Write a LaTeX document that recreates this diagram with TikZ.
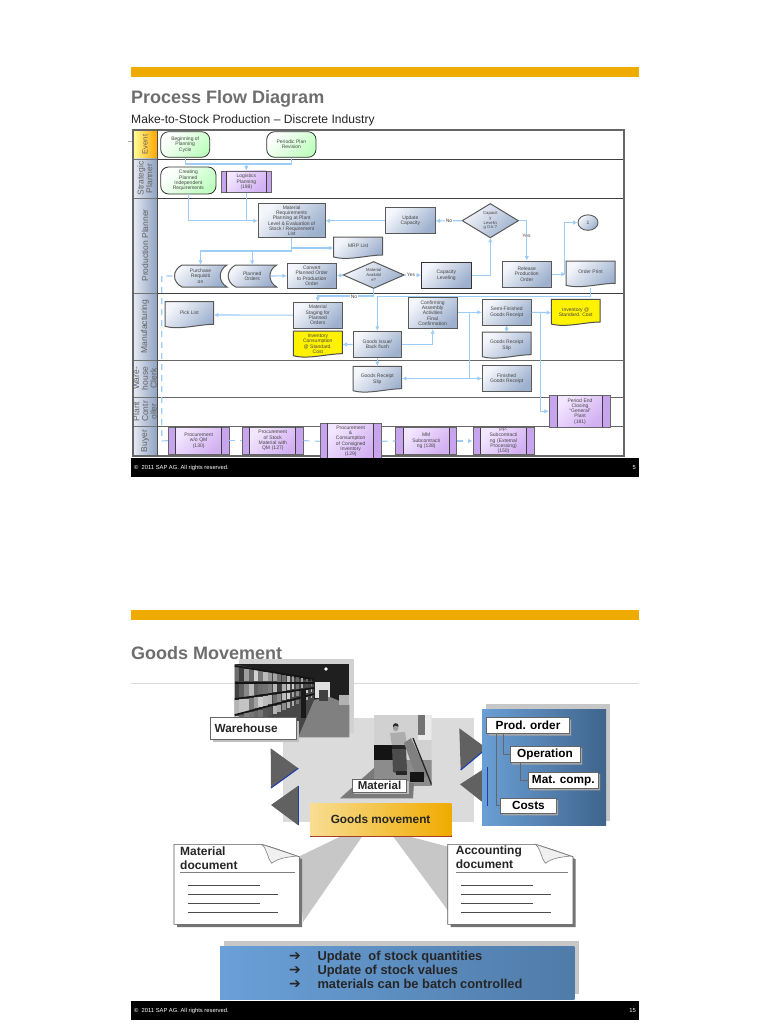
\documentclass[tikz,border=0pt]{standalone}
\usepackage{fontspec}
\setmainfont{Liberation Sans}
\newfontfamily\dvs{DejaVu Sans}
\usetikzlibrary{arrows.meta,shapes.geometric,shadings,calc}
\definecolor{sapgold}{HTML}{F0AB00}
\definecolor{titlegrey}{HTML}{6E6E6E}
\definecolor{conncol}{HTML}{9DCCF6}
\definecolor{txtgrey}{HTML}{454545}
\definecolor{pboxl}{HTML}{F4F6FB}
\definecolor{pboxd}{HTML}{9DB0CE}
\definecolor{purpl}{HTML}{F3E6FF}
\definecolor{purpd}{HTML}{D2B0F2}
\definecolor{purps}{HTML}{C8A4EE}
\definecolor{panell}{HTML}{6A9FD5}
\definecolor{paneld}{HTML}{3F648C}
\definecolor{resl}{HTML}{6AA0D8}
\definecolor{resd}{HTML}{4F7BA8}
\definecolor{gmlight}{HTML}{F8DD92}
\definecolor{gmedge}{HTML}{A83A2A}
\definecolor{edgeblue}{HTML}{1F3FAF}
\definecolor{headl}{HTML}{E6EAF3}
\definecolor{headd}{HTML}{8FA2C2}
\tikzset{
  tiny/.style={font=\fontsize{5}{5.3}\selectfont,text=txtgrey,align=center,inner sep=0pt},
  procbox/.style={draw=black!65,line width=1pt,top color=pboxl,bottom color=pboxd,shading angle=45},
  docfill/.style={draw=black!65,line width=1pt,top color=pboxl,bottom color=pboxd,shading angle=45},
  yellowfill/.style={draw=black!70,line width=1pt,fill=yellow},
  purplebox/.style={draw=black!60,line width=0.8pt,top color=purpl,bottom color=purpd,shading angle=45},
  startbox/.style={draw=black!80,line width=0.8pt,rounded corners=8pt,top color=white,bottom color=green!25,shading angle=45},
  conn/.style={draw=conncol,line width=1.1pt},
  arr/.style={conn,-{Latex[length=4.5pt,width=4.5pt]}},
  dashconn/.style={conn,dash pattern=on 6pt off 5pt},
  lane/.style={draw=black!75,line width=0.9pt},
  lanehead/.style={draw=black!55,line width=0.6pt,left color=headl,right color=headd},
  lanetxt/.style={rotate=90,font=\fontsize{8.5}{8.7}\selectfont,text=black!62,align=center,inner sep=0pt},
  tag/.style={tiny,fill=white,inner xsep=1pt},
  whitetag/.style={draw=black!60,line width=0.7pt,fill=white,font=\bfseries\fontsize{11.8}{12}\selectfont,inner sep=0pt},
  shad/.style={fill=black!22,draw=none},
  slab/.style={fill=black!14,draw=none},
  tri/.style={fill=black!62,draw=none},
  bluedge/.style={draw=edgeblue,line width=1.1pt},
  treeline/.style={draw=black!60,line width=0.9pt},
  doclines/.style={draw=black!70,line width=0.6pt},
  doctxt/.style={font=\bfseries\fontsize{12}{14}\selectfont,text=black!85,align=left,inner sep=0pt,anchor=north west},
  foot/.style={font=\fontsize{5.8}{6}\selectfont,text=white,inner sep=0pt}
}
% style, name, x1,y1,x2,y2, text
\newcommand{\BX}[7]{%
  \pgfmathsetmacro\bw{#5-#3}\pgfmathsetmacro\bh{#6-#4}%
  \pgfmathsetmacro\cxx{(#3+#5)/2}\pgfmathsetmacro\cyy{(#4+#6)/2}%
  \node[#1,tiny,minimum width=\bw pt,minimum height=\bh pt] (#2) at (\cxx,\cyy) {#7};}
% document: fillstyle, name, x1,y1,x2,y2, text
\newcommand{\DOC}[7]{%
  \pgfmathsetmacro\cxx{(#3+#5)/2}\pgfmathsetmacro\cyy{(#4+#6)/2}%
  \pgfmathsetmacro\bw{#5-#3}\pgfmathsetmacro\bh{#6-#4}%
  \pgfmathsetmacro\qa{#3+\bw*0.3}\pgfmathsetmacro\qb{#3+\bw*0.7}%
  \path[#1] (#3,#4) -- (#5,#4) -- (#5,#6-4) .. controls (\qb,#6-4) and (\qa,#6+2) .. (#3,#6-2) -- cycle;
  \node[tiny,minimum width=\bw pt,minimum height=\bh pt] (#2) at (\cxx,\cyy) {\raisebox{4pt}{\begin{tabular}{@{}c@{}}#7\end{tabular}}};}
% predefined process: name, x1,y1,x2,y2,inset, text
\newcommand{\PPB}[7]{%
  \fill[purps] (#2,#3) rectangle (#4,#5);
  \pgfmathsetmacro\bw{#4-#2-2*#6}\pgfmathsetmacro\bh{#5-#3}%
  \pgfmathsetmacro\cxx{(#2+#4)/2}\pgfmathsetmacro\cyy{(#3+#5)/2}%
  \pgfmathsetmacro\ow{#4-#2}%
  \node[purplebox,draw=none,tiny,minimum width=\bw pt,minimum height=\bh pt,text width=\bw pt] (#1-in) at (\cxx,\cyy) {#7};
  \node[draw=black!60,line width=0.8pt,minimum width=\ow pt,minimum height=\bh pt,inner sep=0pt] (#1) at (\cxx,\cyy) {};
  \draw[black!75,line width=0.8pt] (#2+#6,#3) -- (#2+#6,#5) (#4-#6,#3) -- (#4-#6,#5);}
% diamond: name, x1,y1,x2,y2, text
\newcommand{\DIA}[6]{%
  \pgfmathsetmacro\cxx{(#2+#4)/2}\pgfmathsetmacro\cyy{(#3+#5)/2}%
  \path[procbox] (#2,\cyy) -- (\cxx,#3) -- (#4,\cyy) -- (\cxx,#5) -- cycle;
  \pgfmathsetmacro\bw{#4-#2}\pgfmathsetmacro\bh{#5-#3}%
  \node[tiny,font=\fontsize{4.2}{4.6}\selectfont,minimum width=\bw pt,minimum height=\bh pt] (#1) at (\cxx,\cyy) {#6};}
% stored data: name, x1,y1,x2,y2, text
\newcommand{\STO}[6]{%
  \pgfmathsetmacro\cxx{(#2+#4)/2}\pgfmathsetmacro\cyy{(#3+#5)/2}%
  \pgfmathsetmacro\bw{#4-#2}\pgfmathsetmacro\bh{#5-#3}%
  \path[procbox] (#2+8,#3) -- (#4,#3) .. controls (#4-9,#3+5) and (#4-9,#5-5) .. (#4,#5) -- (#2+8,#5) .. controls (#2-2,#5-5) and (#2-2,#3+5) .. (#2+8,#3) -- cycle;
  \node[tiny,minimum width=\bw pt,minimum height=\bh pt] (#1) at (\cxx,\cyy) {#6};}
\begin{document}
\begin{tikzpicture}[x=1pt,y=-1pt]
\useasboundingbox[fill=white] (0,0) rectangle (768,1024);

%% ===== upper slide =====
\fill[sapgold] (131,67) rectangle (639,77);
\node[anchor=west,inner sep=0pt,font=\bfseries\fontsize{18}{19}\selectfont,text=titlegrey] (t1) at (131,99) {Process Flow Diagram};
\node[anchor=west,inner sep=0pt,font=\fontsize{12.1}{13}\selectfont,text=black!85] (t2) at (131,120.5) {Make-to-Stock Production – Discrete Industry};

% lanes
\draw[black!30,line width=1pt] (128,142) -- (132,142);
\path[draw=black!55,line width=0.6pt,left color=yellow!40!white,right color=orange!70!yellow] (133,130) rectangle (157,159);
\path[lanehead] (133,159) rectangle (157,198);
\path[lanehead] (133,198) rectangle (157,293);
\path[lanehead] (133,293) rectangle (157,360);
\path[lanehead] (133,360) rectangle (157,397);
\path[lanehead] (133,397) rectangle (157,426);
\path[lanehead] (133,426) rectangle (157,456);
\draw[lane] (157,159) -- (624,159) (157,198) -- (624,198) (157,293) -- (624,293);
\draw[draw=black!60,line width=1pt] (157,360) -- (624,360) (157,397) -- (624,397) (157,426) -- (624,426);
\draw[draw=black!60,line width=1.2pt] (133,130) rectangle (624,456);
\draw[draw=black!70,line width=0.9pt] (157,130) -- (157,456);
\node[lanetxt,font=\fontsize{7.5}{8}\selectfont] (l1) at (145,144.5) {Event};
\node[lanetxt] (l2) at (145,178.5) {Strategic\\Planner};
\node[lanetxt] (l3) at (145,245.5) {Production Planner};
\node[lanetxt] (l4) at (145,326.5) {Manufacturing};
\node[lanetxt] (l5) at (145,378.5) {Ware-\\house\\Clerk};
\node[lanetxt] (l6) at (145,411.5) {Plant\\Contr\\oller};
\node[lanetxt] (l7) at (145,441) {Buyer};

% nodes
\BX{startbox}{beg}{160.7}{131.7}{209.7}{157.3}{Beginning of\\Planning\\Cycle}
\BX{startbox}{per}{266.7}{131.7}{316}{157.3}{Periodic Plan\\Revision}
\BX{startbox}{cre}{160.7}{167}{216}{194}{Creating\\Planned\\Independent\\Requirements}
\PPB{log}{221.7}{171}{271}{192.7}{5}{\centering Logistics\\Planning\\(198)}
\BX{procbox}{mrp}{258.3}{204}{325}{237.7}{Material\\Requirements\\Planning at Plant\\Level \& Evaluation of\\Stock / Requirement\\List}
\DOC{docfill}{mrpl}{333.7}{237}{382.7}{259}{MRP List}
\STO{pur}{174}{265}{227}{287}{Purchase\\Requisiti\\on}
\STO{pla}{227.7}{265}{276.7}{287}{Planned\\Orders}
\BX{procbox}{con}{287.3}{263}{336.3}{288.7}{Convert\\Planned Order\\to Production\\Order}
\DIA{mat}{343.3}{261.7}{404}{288.3}{Material\\Availabl\\e?}
\BX{procbox}{upd}{385.7}{208}{435}{233.7}{Update\\Capacity}
\DIA{capd}{462.3}{203.7}{518.3}{237.7}{Capacit\\y\\Levelin\\g O.k.?}
\node[draw=black!65,line width=0.9pt,ellipse,top color=pboxl,bottom color=pboxd,shading angle=45,minimum width=20pt,minimum height=15.5pt,tiny] (one) at (588,222.6) {1};
\BX{procbox,draw=black!80}{capl}{421.7}{262.3}{471}{288}{Capacity\\Leveling}
\BX{procbox}{rel}{502.3}{261}{551.3}{287.3}{Release\\Production\\Order}
\DOC{docfill}{ord}{566}{261}{615}{287.3}{Order Print}
\DOC{docfill}{pick}{165}{301.7}{213.7}{328.3}{Pick List}
\BX{procbox}{sta}{293.3}{302.3}{342.3}{328}{Material\\Staging for\\Planned\\Orders}
\DOC{yellowfill}{inv1}{293.3}{331}{342.3}{357.7}{Inventory\\Consumption\\@ Standard.\\Cost}
\BX{procbox}{gi}{353}{331.3}{401.7}{357.7}{Goods Issue/\\Back flush}
\DOC{docfill}{grs1}{353}{366.3}{401.7}{392.7}{Goods Receipt\\Slip}
\BX{procbox}{cfm}{408}{297.3}{457.3}{328.7}{Confirming\\Assembly\\Activities\\Final\\Confirmation}
\BX{procbox}{semi}{482.3}{299.3}{531}{325.3}{Semi-Finished\\Goods Receipt}
\DOC{docfill}{grs2}{482.3}{332}{531}{358.7}{Goods Receipt\\Slip}
\DOC{yellowfill}{inv2}{551.3}{299.3}{600}{326}{Inventory @\\Standard. Cost}
\BX{procbox}{fin}{482.3}{365.7}{531}{391.3}{Finished\\Goods Receipt}
\PPB{pend}{549.3}{395.7}{610.7}{427}{8}{\centering Period End\\Closing\\``General''\\Plant\\(181)}
\PPB{b1}{168.3}{427.3}{229}{454}{7.5}{\centering Procurement\\w/o QM\\(130)}
\PPB{b2}{242.3}{427.3}{303.3}{454}{7.5}{\centering Procurement\\of Stock\\Material with\\QM (127)}
\PPB{b3}{320}{423.3}{381.3}{459.3}{7.5}{\centering Procurement\\\&\\Consumption\\of Consigned\\Inventory\\(129)}
\PPB{b4}{395.7}{427.7}{456.7}{454.3}{7.5}{\centering MM\\Subcontracti\\ng (138)}
\PPB{b5}{473}{427.7}{534}{454.3}{7.5}{\centering PP-\\Subcontracti\\ng (External\\Processing)\\(150)}

% connectors
\coordinate (bus) at (246.4,164);
\coordinate (mrpj) at (291.65,251);
\coordinate (nojn) at (373.65,296);
\coordinate (ordj) at (590.5,296.8);
\coordinate (relj) at (564.3,274.15);
\coordinate (cfmj) at (469.3,312.3);
\coordinate (semij) at (540.3,312.3);
\coordinate (dash1) at (161.7,441);
\draw[conn] (beg.south) |- (bus);
\draw[conn] (per.south) |- (bus);
\draw[arr] (bus) -- (log.north);
\draw[arr] (cre.south) |- (mrp.west);
\draw[conn] (log.south) -- (log.south |- mrp.west);
\draw[arr] (upd.west) -- (mrp.east);
\draw[arr] (capd.west) -- (upd.east);
\node[tag] (lno1) at (449,220.8) {No};
\draw[arr] (capd.east) -| (rel.north);
\node[tag] (lyes1) at (526.5,235.7) {Yes};
\draw[arr] (capl.east) -| (capd.south);
\draw[arr] (mat.east) -- (capl.west);
\node[tag] (lyes2) at (411,275) {Yes};
\draw[arr] (mat.west) -- (con.east);
\draw[arr] ([xshift=-6pt]pla.east) -- (con.west);
\draw[conn] (mrp.south) -- (mrpj);
\draw[arr] (mrpj) -| (pur.north);
\draw[arr] (mrpj) -| (pla.north);
\draw[arr] (mrp.south |- mrpl.west) -- (mrpl.west);
\draw[arr] (mat.south) -- (nojn) -| (sta.north);
\node[tag] (lno2) at (354,297) {No};
\draw[arr] (rel.east) -- (ord.west);
\draw[arr] (relj) |- (one.west);
\draw[arr] (ord.south) -- (ordj) -| (gi.north);
\draw[arr] (sta.west) -- (pick.east);
\draw[arr] (gi.west) -- (inv1.east);
\draw[arr] (gi.south) -- (grs1.north);
\draw[arr] (gi.east) -| (cfm.south);
\draw[arr] (cfm.east |- semi.west) -- (semi.west);
\draw[arr] (cfmj) |- (fin.west);
\draw[arr] (fin.west) -- (grs1.east |- fin.west);
\draw[conn,{Latex[length=3pt,width=4pt]}-{Latex[length=3pt,width=4pt]}] (semi.south) -- (grs2.north);
\draw[arr] (semi.east) -- (inv2.west);
\draw[arr] (semij) |- (pend.west);
\draw[dashconn] (b1.west) -- (dash1) |- (pur.west);
\draw[dashconn] (b1.east) -- (b2.west);
\draw[dashconn] (b2.east) -- (b3.west);
\draw[dashconn] (b3.east) -- (b4.west);
\draw[dashconn,-{Latex[length=4.5pt,width=4.5pt]}] (b4.east) -- (b5.west);

% footer
\fill[black] (131,458) rectangle (639,477);
\node[foot,anchor=west] (f1) at (134,467.7) {©~~2011 SAP AG. All rights reserved.};
\node[foot,anchor=east] (f2) at (636,467.7) {5};

%% ===== lower slide =====
\fill[sapgold] (131,610) rectangle (639,620);
\node[anchor=west,inner sep=0pt,font=\bfseries\fontsize{18}{19}\selectfont,text=titlegrey] (t3) at (131,653) {Goods Movement};
\draw[black!15,line width=1.2pt] (131,683.5) -- (639,683.5);

% grey panel and wedges
\fill[slab] (283.3,718) rectangle (474,821.7);
\fill[black!22] (340,836.7) -- (362,836.7) -- (303,922) -- (298,857) -- cycle;
\fill[black!22] (393.3,836.7) -- (410,836.7) -- (449,847) -- (449,912) -- cycle;

% warehouse photo
\fill[black!18] (239,659.3) rectangle (353.7,733);
\begin{scope}
\clip (234.7,664) rectangle (349.3,737.3);
\fill[black!88] (234.7,664) rectangle (349.3,737.3);
\fill[black!12] (315,682) rectangle (330,698);
\fill[black!50] (313,700) -- (330,697) -- (349.3,705) -- (349.3,737.3) -- (298,737.3) -- cycle;
\fill[black!72] (234.7,664) -- (314,682) -- (314,700) -- (298,737.3) -- (234.7,737.3) -- cycle;
\pgfmathsetseed{11}
\foreach \a/\b in {667/680,684/684,700/689,716/695}{
  \foreach \t in {0,0.06,...,0.96}{
    \pgfmathsetmacro\gv{15+65*rnd}
    \pgfmathsetmacro\xx{234.7+\t*79}
    \pgfmathsetmacro\yy{\a+\t*(\b-\a)}
    \pgfmathsetmacro\hh{(1-\t)*12+2}
    \pgfmathsetmacro\ww{(1-\t)*5+1.5}
    \fill[black!\gv] (\xx,\yy) rectangle (\xx+\ww,\yy+\hh);
  }
  \draw[black!92,line width=1.6pt] (234.7,\a-1) -- (314,\b-1);
}
\fill[black!90] (300.5,690) rectangle (306,718);
\fill[black!75] (319,690) rectangle (328,701);
\fill[white] (326,669) circle (1.8pt);
\fill[black!30] (339,695) rectangle (349.3,705);
\end{scope}

% material photo
\begin{scope}
\clip (374,715) rectangle (431.7,785.7);
\fill[black!18] (374,715) rectangle (431.7,785.7);
\fill[black!8] (418,715) rectangle (431.7,740);
\fill[black!55] (418,715) rectangle (425,735);
\fill[black!45] (374,760) rectangle (431.7,785.7);
\fill[black!92] (374,745) rectangle (393,760);
\fill[black!70] (392,747) -- (406,747) -- (407,770) -- (402,775) -- (393,772) -- cycle;
\fill[black!85] (396,771) rectangle (407,775);
\fill[black!32] (390,733) -- (405,732) -- (407,745) -- (392,746) -- cycle;
\fill[black!85] (392,745) rectangle (407,749);
\fill[black!85] (395.7,726) circle (2.8pt);
\fill[black!38] (395.7,728.4) circle (2.7pt);
\fill[black!50] (404,743) -- (411,738) -- (428,775) -- (418,782) -- cycle;
\draw[black!85,line width=1.3pt] (413,738) -- (431.7,785);
\fill[black!92] (410,772) rectangle (424,782);
\end{scope}
\fill[black!52] (340,798.3) -- (374,768) -- (374,783) -- (414,783) -- (413,798.3) -- cycle;

% warehouse and material tags
\fill[black!25] (213,720.5) rectangle (299,742);
\node[whitetag,minimum width=86pt,minimum height=21.6pt,text=black!85] (wh) at (253.7,728.5) {\hspace*{-15pt}Warehouse};
\fill[black!25] (354,781) rectangle (408.5,794);
\node[whitetag,minimum width=54.4pt,minimum height=13.3pt,text=black!85,font=\bfseries\fontsize{11.5}{12}\selectfont] (mtl) at (379.5,785.7) {Material};

% triangles
\fill[tri] (270.7,748.3) -- (298.3,768.3) -- (271,788) -- cycle;
\draw[bluedge] (271,788) -- (298.3,768.3);
\fill[tri] (271,805) -- (298.3,785.7) -- (298.3,825.3) -- cycle;
\draw[bluedge] (298.3,785.7) -- (298.3,825.3);
\fill[tri] (459.3,728.3) -- (486.7,748.3) -- (460.7,770) -- cycle;
\draw[bluedge] (460.7,770) -- (486.7,748.3);
\fill[tri] (460,784.3) -- (487.3,766.7) -- (487.3,806) -- cycle;

% goods movement
\fill[gmedge] (310,805) rectangle (452.3,836.7);
\node[draw=none,left color=gmlight,right color=sapgold,minimum width=141.3pt,minimum height=31.7pt,inner sep=0pt,font=\bfseries\fontsize{11.8}{12}\selectfont,text=black!85] (gm) at (380.6,819.2) {Goods movement};

% blue panel
\fill[shad] (486,704) rectangle (610,821);
\path[left color=panell,right color=paneld] (482,709) rectangle (606,825);
\draw[bluedge] (487.3,766.7) -- (487.3,806);
\fill[black!35] (488.7,719.7) rectangle (571,735.7) (512,748) rectangle (582,764.7) (530,774) rectangle (600,790.3) (502.7,800) rectangle (558,815.3);
\draw[treeline] (496,733.7) |- (500.7,805.7);
\draw[treeline] (503.3,733.7) |- (510,754.3);
\draw[treeline] (520.7,762.7) |- (528.3,780.2);
\node[whitetag,minimum width=82.6pt,minimum height=16pt,text=black] (po) at (528,725.7) {Prod. order};
\node[whitetag,minimum width=70pt,minimum height=16.7pt,text=black] (op) at (545,754.3) {Operation};
\node[whitetag,minimum width=70pt,minimum height=16.3pt,text=black] (mc) at (563.3,780.2) {Mat. comp.};
\node[whitetag,minimum width=55.3pt,minimum height=15.3pt,text=black] (cs) at (528.4,805.7) {Costs};

% documents
\foreach \dx/\nm in {0/mat,273.7/acc}{
  \begin{scope}[xshift=\dx pt]
  \fill[black!55] (177,847.5) -- (262,847.5) -- (302,859) -- (302,927) -- (177,927) -- cycle;
  \path[draw=black!65,line width=0.6pt,fill=white] (174,844.3) -- (261.7,844.3) .. controls (275,848) and (288,853) .. (299.3,856.7) -- (299.3,924.3) -- (174,924.3) -- cycle;
  \path[draw=black!50,line width=0.6pt,fill=black!6] (261.7,844.3) .. controls (268,850) and (267,858) .. (271.7,863.3) .. controls (278,858) and (288,857) .. (297,856) -- cycle;
  \end{scope}
}
\node[doctxt] (d1) at (180,846.5) {Material\\document};
\node[doctxt] (d2) at (455.7,846) {Accounting\\document};
\draw[black!50,line width=0.7pt] (180,872.3) -- (295,872.3) (455.7,872.3) -- (568.3,872.3);
\draw[doclines] (187.7,885) -- (260,885) (187.7,894) -- (278.3,894) (187.7,903) -- (260,903) (187.7,912) -- (278.3,912);
\draw[doclines] (461,885) -- (532.7,885) (461,894) -- (551,894) (461,903) -- (532.7,903) (461,912) -- (551,912);

% blue result box
\fill[black!22] (224.3,941.3) rectangle (579,994.3);
\path[left color=resl,right color=resd] (220,946) rectangle (574.3,999);
\node[anchor=west,align=left,inner sep=0pt,font=\bfseries\fontsize{12.9}{13.9}\selectfont,text=black!85] (res) at (289,969.5) {\makebox[28.3pt][l]{\dvs\fontsize{14}{13.9}\selectfont ➔}Update\ \ of stock quantities\\\makebox[28.3pt][l]{\dvs\fontsize{14}{13.9}\selectfont ➔}Update of stock values\\\makebox[28.3pt][l]{\dvs\fontsize{14}{13.9}\selectfont ➔}materials can be batch controlled};

% footer
\fill[black] (131,1001) rectangle (639,1020);
\node[foot,anchor=west] (f3) at (134,1010.5) {©~~2011 SAP AG. All rights reserved.};
\node[foot,anchor=east] (f4) at (636,1010.5) {15};
\end{tikzpicture}
\end{document}
